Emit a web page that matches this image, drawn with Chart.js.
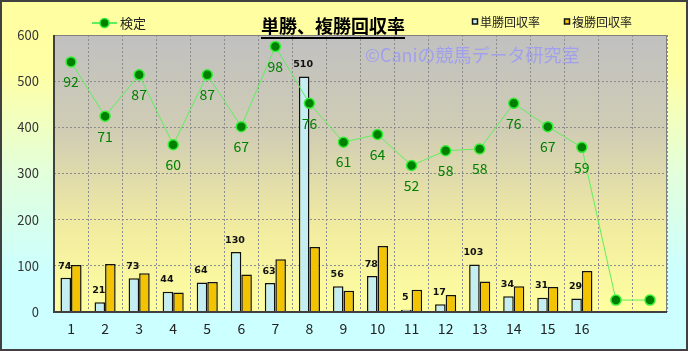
<!DOCTYPE html>
<html>
<head>
<meta charset="utf-8">
<script src="https://cdn.jsdelivr.net/npm/chart.js@4"></script>
<style>
  html, body { margin:0; padding:0; background:#fff; }
  #wrap { position:relative; width:688px; height:351px; font-family:"Noto Sans CJK JP", sans-serif; }
  #wrap canvas { position:absolute; left:0; top:0; }
  .txt { position:absolute; white-space:nowrap; line-height:1; }
  #title { left:0; width:666px; top:16px; text-align:center; font-size:18px; font-weight:bold; color:#000;
           text-decoration:underline; text-underline-offset:4px; text-decoration-thickness:1.5px; }
  #lg-check { left:120px; top:16px; font-size:13px; color:#222; }
  #lg-win   { left:480px; top:16px; font-size:12px; color:#222; }
  #lg-place { left:572px; top:16px; font-size:12px; color:#222; }
  #mark { left:365px; top:45px; font-size:18px; color:#a0a0ee; }
</style>
</head>
<body>
<div id="wrap">
  <canvas id="c" width="688" height="351"></canvas>
  <div class="txt" id="title">単勝、複勝回収率</div>
  <div class="txt" id="lg-check">検定</div>
  <div class="txt" id="lg-win">単勝回収率</div>
  <div class="txt" id="lg-place">複勝回収率</div>
  <div class="txt" id="mark">©Caniの競馬データ研究室</div>
</div>
<script>
// ── DATA ─────────────────────────────────────────────
const categories = ['1','2','3','4','5','6','7','8','9','10','11','12','13','14','15','16','',''];
const winRate    = [74,21,73,44,64,130,63,510,56,78,5,17,103,34,31,29,null,null];
const placeRate  = [102,104,84,42,65,81,114,141,46,143,48,37,66,56,54,89,null,null];
const checkScore = [92,71,87,60,87,67,98,76,61,64,52,57.7,58.4,76,67,59,0,0];
const checkShown = 16;   // labels only for horses 1-16
const yTicks     = [0,100,200,300,400,500,600];

const COL = {
  win:   '#c4eef2',
  place: '#f4c300',
  line:  '#5ef05e',
  dot:   '#008000',
  dotRim:'#33ee33',
  grid:  '#8c8c8c',
};

// ── BACKGROUND / FRAME ───────────────────────────────
const bgPlugin = {
  id: 'bg',
  beforeDraw(chart) {
    const { ctx, width, height, chartArea: a } = chart;
    ctx.save();
    let g = ctx.createLinearGradient(0, 0, 0, height);
    g.addColorStop(0,    '#ffffa0');
    g.addColorStop(0.2,  '#ffffa4');
    g.addColorStop(0.5,  '#e2ffdc');
    g.addColorStop(0.78, '#ccffff');
    g.addColorStop(1,    '#ccffff');
    ctx.fillStyle = g;
    ctx.fillRect(0, 0, width, height);

    g = ctx.createLinearGradient(0, a.top, 0, a.bottom);
    g.addColorStop(0,    '#c0c0c0');
    g.addColorStop(0.35, '#d0cdb4');
    g.addColorStop(0.7,  '#f2eca0');
    g.addColorStop(1,    '#ffffa0');
    ctx.fillStyle = g;
    ctx.fillRect(a.left, a.top, a.right - a.left, a.bottom - a.top);
    ctx.restore();
  },
  afterDraw(chart) {
    const { ctx, width, height, chartArea: a } = chart;
    ctx.save();
    // plot frame
    ctx.lineWidth = 1;
    ctx.strokeStyle = '#808080';
    ctx.beginPath();
    ctx.moveTo(a.left, a.top + 0.5); ctx.lineTo(a.right - 0.5, a.top + 0.5); ctx.lineTo(a.right - 0.5, a.bottom);
    ctx.stroke();
    ctx.lineWidth = 2;
    ctx.strokeStyle = '#404040';
    ctx.beginPath();
    ctx.moveTo(a.left, a.top); ctx.lineTo(a.left, a.bottom); ctx.lineTo(a.right, a.bottom);
    ctx.stroke();
    // outer frame
    ctx.strokeRect(1, 1, width - 2, height - 2);

    // legend markers
    ctx.strokeStyle = COL.line; ctx.lineWidth = 2;
    ctx.beginPath(); ctx.moveTo(92, 23); ctx.lineTo(117, 23); ctx.stroke();
    ctx.beginPath(); ctx.arc(104.5, 23, 4.5, 0, Math.PI * 2);
    ctx.fillStyle = COL.dot; ctx.fill();
    ctx.lineWidth = 1.5; ctx.strokeStyle = COL.dotRim; ctx.stroke();

    ctx.lineWidth = 1.5; ctx.strokeStyle = '#111';
    ctx.fillStyle = COL.win;   ctx.fillRect(472.5, 19, 5, 5); ctx.strokeRect(472.5, 19, 5, 5);
    ctx.fillStyle = COL.place; ctx.fillRect(564.5, 19, 5, 5); ctx.strokeRect(564.5, 19, 5, 5);
    ctx.restore();
  }
};

// ── VALUE LABELS ─────────────────────────────────────
const labelPlugin = {
  id: 'valueLabels',
  afterDatasetsDraw(chart) {
    const ctx = chart.ctx;
    ctx.save();
    ctx.textAlign = 'center';

    ctx.font = 'bold 9.5px "DejaVu Sans", sans-serif';
    ctx.fillStyle = '#111';
    ctx.textBaseline = 'bottom';
    chart.getDatasetMeta(1).data.forEach((bar, i) => {
      if (winRate[i] == null) return;
      ctx.fillText(String(winRate[i]), bar.x - 1, bar.y - 7);
    });

    ctx.font = '14px "Noto Sans CJK JP", sans-serif';
    ctx.fillStyle = '#008000';
    ctx.textBaseline = 'middle';
    chart.getDatasetMeta(0).data.forEach((pt, i) => {
      if (i >= checkShown) return;
      ctx.fillText(String(Math.round(checkScore[i])), pt.x, pt.y + 20);
    });
    ctx.restore();
  }
};

// ── CHART ────────────────────────────────────────────
new Chart(document.getElementById('c'), {
  type: 'bar',
  data: {
    labels: categories,
    datasets: [{
      type: 'line',
      label: '検定',
      data: checkScore,
      yAxisID: 'y2',
      borderColor: COL.line,
      borderWidth: 1,
      pointRadius: 5,
      pointBorderWidth: 1.5,
      pointBackgroundColor: COL.dot,
      pointBorderColor: COL.dotRim,
      tension: 0,
      fill: false,
    }, {
      label: '単勝回収率',
      data: winRate,
      backgroundColor: COL.win,
      borderColor: '#111',
      borderWidth: 1.5,
      categoryPercentage: 0.62,
      barPercentage: 1,
    }, {
      label: '複勝回収率',
      data: placeRate,
      backgroundColor: COL.place,
      borderColor: '#111',
      borderWidth: 1.5,
      categoryPercentage: 0.62,
      barPercentage: 1,
    }]
  },
  options: {
    responsive: false,
    animation: false,
    devicePixelRatio: 1,
    layout: { padding: { top: 35, right: 21, left: 0, bottom: 0 } },
    plugins: { legend: { display: false }, tooltip: { enabled: false } },
    scales: {
      x: {
        afterFit: s => { s.height = 39; },
        grid: { color: COL.grid, drawTicks: false, offset: true },
        border: { display: false, dash: [2, 2] },
        ticks: { color: '#222', padding: 8, font: { family: 'Noto Sans CJK JP', size: 14 } },
      },
      y: {
        min: 0, max: 600,
        afterFit: s => { s.width = 54; },
        afterBuildTicks: s => { s.ticks = yTicks.map(v => ({ value: v })); },
        grid: { color: COL.grid, drawTicks: false },
        border: { display: false, dash: [2, 2] },
        ticks: { color: '#333', padding: 15, font: { family: 'Noto Sans CJK JP', size: 13 } },
      },
      y2: {
        display: false,
        min: -4.6, max: 102.4,
      }
    }
  },
  plugins: [bgPlugin, labelPlugin]
});
</script>
</body>
</html>
